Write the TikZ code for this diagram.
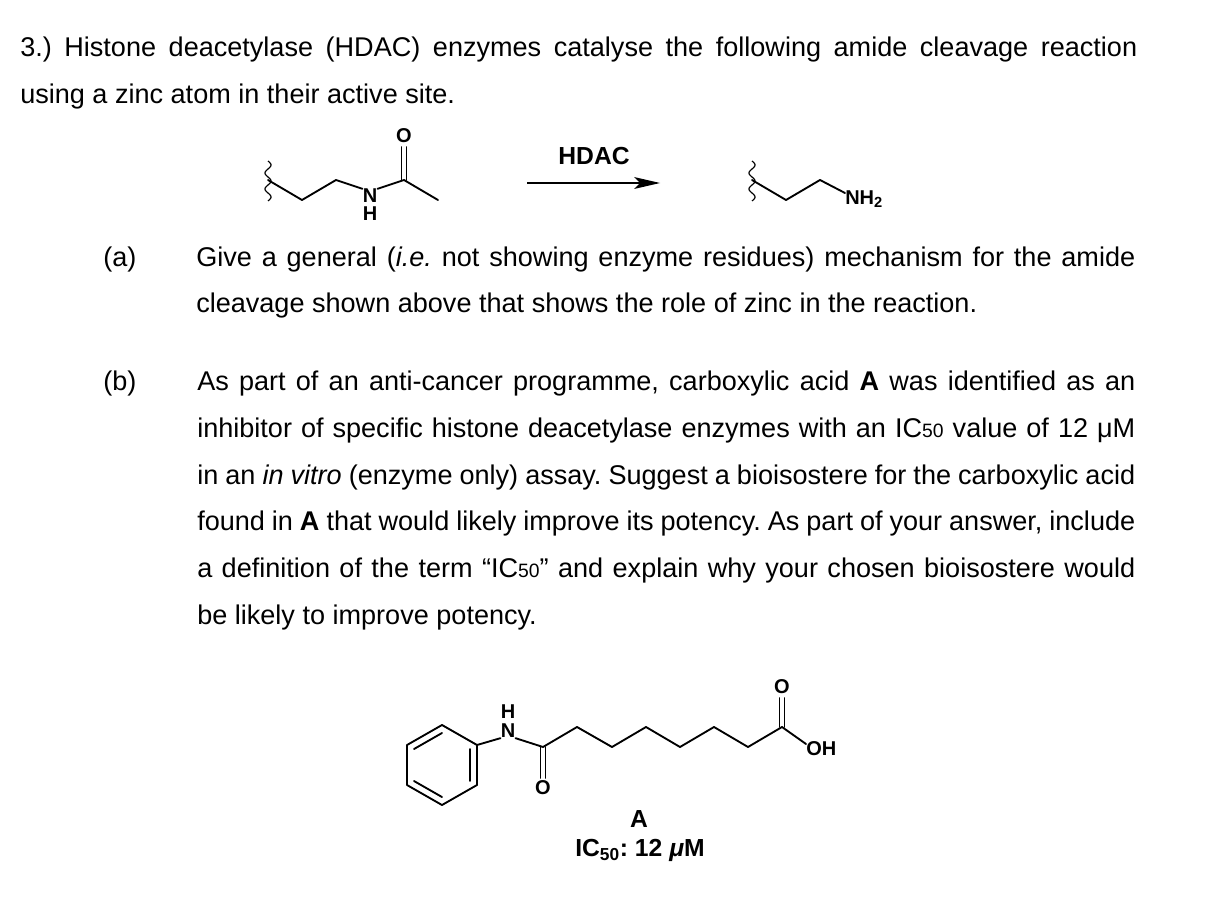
\documentclass[tikz,border=0pt]{standalone}
\usepackage{fontspec}
\setmainfont{Liberation Sans}
\usetikzlibrary{calc}
\frenchspacing
\newlength\pxu \pxu=0.75pt
\newcommand\bodyf{\fontsize{20.3}{24}\selectfont}
\newcommand\atomf{\fontsize{15}{16}\selectfont\bfseries}
\newcommand\sub[1]{{\fontsize{14.5}{15}\selectfont #1}}
\tikzset{bond/.style={line width=1.4pt, line cap=round, line join=round},
 txt/.style={anchor=base west, inner sep=0pt, font=\bodyf},
 atom/.style={inner sep=0pt, font=\atomf}}
\begin{document}
\begin{tikzpicture}[x=\pxu, y=-\pxu]
\useasboundingbox (0,0) rectangle (1230,898);
% text
\node[txt] (l1) at (20,57) {\hbox to 1117\pxu{3.) Histone deacetylase (HDAC) enzymes catalyse the following amide cleavage reaction}};
\node[txt] (l2) at (20,104) {using a zinc atom in their active site.};
\node[txt] (pa) at (103,267) {(a)};
\node[txt] (a1) at (196,267) {\hbox to 939\pxu{Give a general (\textit{i.e.} not showing enzyme residues) mechanism for the amide}};
\node[txt] (a2) at (196,313) {cleavage shown above that shows the role of zinc in the reaction.};
\node[txt] (pb) at (103,390) {(b)};
\node[txt] (b1) at (197,390) {\hbox to 938\pxu{As part of an anti-cancer programme, carboxylic acid \textbf{A} was identified as an}};
\node[txt] (b2) at (197,437) {\hbox to 938\pxu{inhibitor of specific histone deacetylase enzymes with an IC\sub{50} value of 12 μM}};
\node[txt] (b3) at (197,484) {\hbox to 938\pxu{in an \textit{in vitro} (enzyme only) assay. Suggest a bioisostere for the carboxylic acid}};
\node[txt] (b4) at (197,530) {\hbox to 938\pxu{found in \textbf{A} that would likely improve its potency. As part of your answer, include}};
\node[txt] (b5) at (197,577) {\hbox to 938\pxu{a definition of the term “IC\sub{50}” and explain why your chosen bioisostere would}};
\node[txt] (b6) at (197,624) {be likely to improve potency.};
% reactant
\draw[line width=0.9pt] plot[domain=0:1, samples=60] ({268+3*sin(\x*2.5*360)}, {161+40*\x});
\coordinate (r1) at (268,180); \coordinate (r2) at (302,200); \coordinate (r3) at (336,180);
\node[atom] (rN) at (370,196) {N};
\node[atom] (rH) at (370,214) {H};
\coordinate (r4) at (404,180); \coordinate (r5) at (438,200); \coordinate (r6) at (404,147);
\node[atom] (rO) at (404,136) {O};
\draw[bond] (r1) -- (r2) -- (r3) -- (rN.north west);
\draw[bond] (rN.north east) -- (r4) -- (r5);
\draw[bond] ($(r4)+(-2.5,0)$) -- ($(r6)+(-2.5,0)$);
\draw[bond] ($(r4)+(2.5,0)$) -- ($(r6)+(2.5,0)$);
% arrow
\coordinate (aS) at (527,183); \coordinate (aE) at (660,183);
\draw[line width=1.5pt] (aS) -- ($(aE)+(-14,0)$);
\fill (aE) -- ++(-26,-6) -- ++(6,6) -- ++(-6,6) -- cycle;
\node[inner sep=0pt, font=\fontsize{18.5}{20}\selectfont\bfseries] (hdac) at (594,156) {HDAC};
% product
\draw[line width=0.9pt] plot[domain=0:1, samples=60] ({752+3*sin(\x*2.5*360)}, {161+40*\x});
\coordinate (p1) at (752,180); \coordinate (p2) at (786,200); \coordinate (p3) at (820,180);
\node[atom, anchor=west] (pN) at (845,199) {NH\textsubscript{\fontsize{11}{11}\selectfont 2}};
\draw[bond] (p1) -- (p2) -- (p3) -- ($(pN.west)+(0,-6)$);
% compound A
\coordinate (c) at (442,765);
\coordinate (b1) at (442,725); \coordinate (b2) at (477,745); \coordinate (b3) at (477,785);
\coordinate (b4) at (442,805); \coordinate (b5) at (407,785); \coordinate (b6) at (407,745);
\draw[bond] (b1) -- (b2) -- (b3) -- (b4) -- (b5) -- (b6) -- cycle;
\draw[bond] ($(b6)!0.2!(c)$) -- ($(b1)!0.2!(c)$);
\draw[bond] ($(b2)!0.2!(c)$) -- ($(b3)!0.2!(c)$);
\draw[bond] ($(b4)!0.2!(c)$) -- ($(b5)!0.2!(c)$);
\node[atom] (aN) at (508,731) {N};
\node[atom] (aH) at (508,712) {H};
\coordinate (k1) at (543,747); \coordinate (k2) at (577,727); \coordinate (k3) at (612,747);
\coordinate (k4) at (646,727); \coordinate (k5) at (680,747); \coordinate (k6) at (714,727);
\coordinate (k7) at (748,747); \coordinate (k8) at (782,727);
\coordinate (ko1) at (543,778); \coordinate (ko2) at (782,698);
\node[atom] (aO1) at (543,788) {O};
\node[atom] (aO2) at (782,687) {O};
\node[atom, anchor=west] (aOH) at (806,749) {OH};
\draw[bond] (b2) -- (aN.south west);
\draw[bond] (aN.south east) -- (k1) -- (k2) -- (k3) -- (k4) -- (k5) -- (k6) -- (k7) -- (k8) -- ($(aOH.west)+(0,-5)$);
\draw[bond] ($(k1)+(-2.5,0)$) -- ($(ko1)+(-2.5,0)$);
\draw[bond] ($(k1)+(2.5,0)$) -- ($(ko1)+(2.5,0)$);
\draw[bond] ($(k8)+(-2.5,0)$) -- ($(ko2)+(-2.5,0)$);
\draw[bond] ($(k8)+(2.5,0)$) -- ($(ko2)+(2.5,0)$);
\node[inner sep=0pt, font=\fontsize{18.5}{20}\selectfont\bfseries] (lA) at (639,819) {A};
\node[inner sep=0pt, font=\fontsize{18.5}{20}\selectfont\bfseries] (lIC) at (640,850) {IC\textsubscript{\fontsize{13}{13}\selectfont 50}: 12 \textit{μ}M};
\end{tikzpicture}
\end{document}
